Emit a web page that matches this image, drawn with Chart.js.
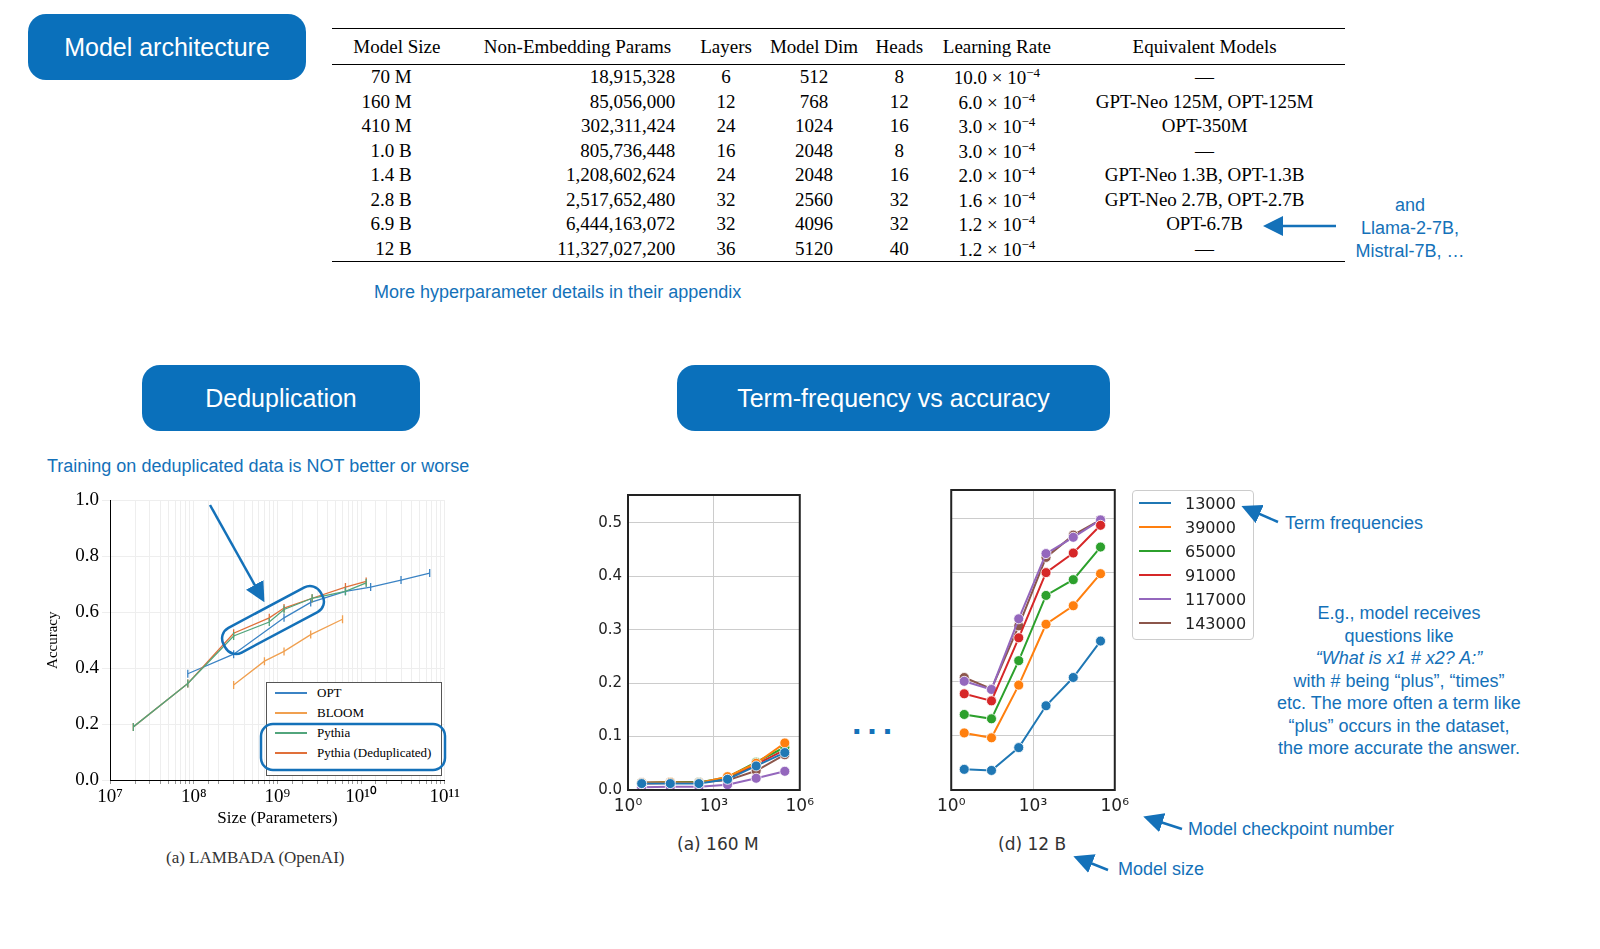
<!DOCTYPE html>
<html><head><meta charset="utf-8">
<script src="https://cdn.jsdelivr.net/npm/chart.js@4"></script>
<style>
body{margin:0;width:1600px;height:949px;background:#fff;position:relative;font-family:"Liberation Sans",Arial,sans-serif;overflow:hidden}
.pill{position:absolute;background:#0a70bb;color:#fff;border-radius:18px;display:flex;align-items:center;justify-content:center;font-size:25px}
.note{position:absolute;color:#1471b9;font-size:18px}
.box{position:absolute}
table{position:absolute;left:332px;top:28px;width:1013px;border-collapse:collapse;font-family:"Liberation Serif",serif;font-size:19px;border-top:1.5px solid #000;border-bottom:1.5px solid #000}
th{font-weight:normal;height:33px;border-bottom:1px solid #000}
td{height:24.5px;padding:0 6px}
.cap{position:absolute;font-size:17px;color:#333;font-family:"DejaVu Sans",sans-serif}
.leg{position:absolute;font-family:"Liberation Serif",serif;font-size:13px;border:1px solid #555;background:#fff;left:266px;top:682px;width:174px;height:92px}
.leg div{height:20px;display:flex;align-items:center;margin-left:8px}
.leg span{display:inline-block;width:32px;height:1.5px;margin-right:10px}
.tleg{position:absolute;left:1132px;top:490px;width:120px;height:148px;border:1px solid #ccc;border-radius:4px;font-family:"DejaVu Sans",sans-serif;font-size:16px;color:#222}
.tleg div{height:24px;display:flex;align-items:center;margin-left:6px}
.tleg span{display:inline-block;width:32px;height:2.5px;margin-right:14px}
</style></head><body>
<div class="pill" style="left:28px;top:14px;width:278px;height:66px">Model architecture</div>
<div class="pill" style="left:142px;top:365px;width:278px;height:66px">Deduplication</div>
<div class="pill" style="left:677px;top:365px;width:433px;height:66px">Term-frequency vs accuracy</div>

<table>
<tr><th>Model Size</th><th style="text-align:center">Non-Embedding Params</th><th>Layers</th><th>Model Dim</th><th>Heads</th><th>Learning Rate</th><th>Equivalent Models</th></tr>
<tbody id="tb"></tbody>
</table>
<div class="note" style="left:374px;top:282px">More hyperparameter details in their appendix</div>
<div class="note" style="left:1340px;top:194px;width:140px;text-align:center;line-height:23px">and<br>Llama-2-7B,<br>Mistral-7B, …</div>
<div class="note" style="left:47px;top:456px">Training on deduplicated data is NOT better or worse</div>
<div class="note" style="left:1285px;top:513px">Term frequencies</div>
<div class="note" style="left:1277px;top:602px;width:244px;text-align:center;line-height:22.5px">E.g., model receives questions like<br><i>“What is x1 # x2? A:”</i><br>with # being “plus”, “times” etc. The more often a term like “plus” occurs in the dataset, the more accurate the answer.</div>
<div class="note" style="left:1188px;top:819px">Model checkpoint number</div>
<div class="note" style="left:1118px;top:859px">Model size</div>
<div class="note" style="left:852px;top:712px;font-size:34px;font-weight:bold;letter-spacing:4px">···</div>

<div class="box" style="left:40px;top:486px;width:422px;height:345px"><canvas id="lam"></canvas></div>
<div class="leg">
<div><span style="background:#3b83c4"></span>OPT</div>
<div><span style="background:#f0a050"></span>BLOOM</div>
<div><span style="background:#52a57c"></span>Pythia</div>
<div><span style="background:#e0703a"></span>Pythia (Deduplicated)</div>
</div>
<div class="cap" style="left:166px;top:848px;font-family:'Liberation Serif',serif">(a) LAMBADA (OpenAI)</div>

<div class="box" style="left:584px;top:480px;width:236px;height:346px"><canvas id="t1"></canvas></div>
<div class="box" style="left:931px;top:480px;width:204px;height:346px"><canvas id="t2"></canvas></div>
<div class="cap" style="left:677px;top:834px">(a) 160 M</div>
<div class="cap" style="left:998px;top:834px">(d) 12 B</div>
<div class="tleg" id="tleg"></div>

<svg style="position:absolute;left:0;top:0" width="1600" height="949">
<defs><marker id="ah" markerWidth="8" markerHeight="8" refX="6" refY="4" orient="auto"><path d="M0,0 L8,4 L0,8 z" fill="#1471b9"/></marker></defs>
<g stroke="#1471b9" stroke-width="2.5" fill="none">
<line x1="210" y1="505" x2="262" y2="598" marker-end="url(#ah)"/>
<rect x="218" y="606" width="110" height="28" rx="12" transform="rotate(-28 273 620)"/>
<rect x="261" y="724" width="184" height="46" rx="12"/>
<line x1="1336" y1="226" x2="1268" y2="226" marker-end="url(#ah)"/>
<line x1="1278" y1="522" x2="1246" y2="508" marker-end="url(#ah)"/>
<line x1="1182" y1="829" x2="1148" y2="818" marker-end="url(#ah)"/>
<line x1="1108" y1="870" x2="1078" y2="858" marker-end="url(#ah)"/>
</g></svg>

<script>
// table
const sizes = ["70 M","160 M","410 M","1.0 B","1.4 B","2.8 B","6.9 B","12 B"];
const params = ["18,915,328","85,056,000","302,311,424","805,736,448","1,208,602,624","2,517,652,480","6,444,163,072","11,327,027,200"];
const layers = [6,12,24,16,24,32,32,36];
const dims = [512,768,1024,2048,2048,2560,4096,5120];
const heads = [8,12,16,8,16,32,32,40];
const lrs = ["10.0","6.0","3.0","3.0","2.0","1.6","1.2","1.2"];
const equiv = ["—","GPT-Neo 125M, OPT-125M","OPT-350M","—","GPT-Neo 1.3B, OPT-1.3B","GPT-Neo 2.7B, OPT-2.7B","OPT-6.7B","—"];
let html = "";
sizes.forEach((s,i) => {
  html += `<tr><td style="text-align:right;padding-right:50px">${s}</td><td style="text-align:right;padding-right:18px">${params[i]}</td><td style="text-align:center">${layers[i]}</td><td style="text-align:center">${dims[i]}</td><td style="text-align:center">${heads[i]}</td><td style="text-align:center">${lrs[i]} × 10<sup style="font-size:13px">−4</sup></td><td style="text-align:center">${equiv[i]}</td></tr>`;
});
document.getElementById("tb").innerHTML = html;

// LAMBADA
const optX = [8.5e7,3e8,1.2e9,2.5e9,6.5e9,1.3e10,3e10,6.6e10];
const optY = [0.38,0.45,0.58,0.635,0.675,0.69,0.715,0.74];
const bloomX = [3e8,7e8,1.2e9,2.5e9,6e9];
const bloomY = [0.34,0.425,0.46,0.52,0.575];
const pyX = [1.9e7,8.5e7,3e8,8e8,1.2e9,2.6e9,6.5e9,1.15e10];
const pyY = [0.19,0.345,0.515,0.565,0.61,0.65,0.675,0.705];
const pyDedupY = [0.19,0.345,0.525,0.58,0.615,0.65,0.69,0.71];

const serif = {family:"Liberation Serif", size:19};
const pts = (xs, ys) => xs.map((x,i) => ({x:x, y:ys[i]}));
const ds = (label, xs, ys, c) => ({label, data:pts(xs,ys), borderColor:c, backgroundColor:c, borderWidth:1.3,
  pointStyle:'line', pointRotation:90, pointRadius:4, pointBorderWidth:1.3});
const sup = {0:"⁰",1:"¹",2:"²",3:"³",4:"⁴",5:"⁵",6:"⁶",7:"⁷",8:"⁸",9:"⁹"};
const pow10 = v => { const e = Math.round(Math.log10(v)); if (Math.abs(Math.log10(v)-e) > 1e-6) return "";
  return "10" + String(e).split("").map(d => sup[d]).join(""); };

new Chart(document.getElementById("lam"), {
  type:'line',
  data:{datasets:[ds("Pythia",pyX,pyY,"#52a57c"), ds("Pythia (Deduplicated)",pyX,pyDedupY,"#e0703a"),
    ds("OPT",optX,optY,"#3b83c4"), ds("BLOOM",bloomX,bloomY,"#f0a050")]},
  options:{animation:false, responsive:true, maintainAspectRatio:false,
    layout:{padding:{top:10,right:10}},
    plugins:{legend:{display:false}, tooltip:{enabled:false}},
    scales:{
      x:{type:'logarithmic', min:1e7, max:1e11, afterFit:s => {s.height = 51;},
        title:{display:true, text:"Size (Parameters)", font:{family:"Liberation Serif", size:17}, color:"#000", padding:2},
        grid:{color:"#eee", drawTicks:true, tickColor:"#999", tickLength:4},
        border:{color:"#000"},
        ticks:{autoSkip:false, maxRotation:0, color:"#000", font:serif, padding:2, callback:v => pow10(v)}},
      y:{min:0, max:1, afterFit:s => {s.width = 70;},
        title:{display:true, text:"Accuracy", font:{family:"Liberation Serif", size:15}, color:"#000"},
        grid:{color:"#eee"}, border:{color:"#000"},
        ticks:{stepSize:0.2, color:"#000", font:serif, callback:v => v.toFixed(1)}}
    }}
});

// term frequency
const ckpts = ["13000","39000","65000","91000","117000","143000"];
const colors = ["#1f77b4","#ff7f0e","#2ca02c","#d62728","#9467bd","#8c564b"];
const freqX = [3,30,300,3000,30000,300000];
const acc160M = [
  [0.012,0.012,0.012,0.020,0.045,0.070],
  [0.013,0.014,0.013,0.025,0.050,0.088],
  [0.013,0.014,0.014,0.024,0.052,0.080],
  [0.012,0.013,0.013,0.022,0.048,0.075],
  [0.005,0.006,0.006,0.010,0.022,0.035],
  [0.014,0.015,0.015,0.018,0.036,0.066]];
const acc12B = [
  [0.038,0.036,0.078,0.155,0.207,0.274],
  [0.105,0.096,0.193,0.305,0.339,0.398],
  [0.139,0.131,0.238,0.358,0.387,0.447],
  [0.177,0.164,0.280,0.400,0.436,0.487],
  [0.200,0.185,0.315,0.435,0.465,0.497],
  [0.207,0.186,0.302,0.428,0.469,0.497]];

const frame = {id:'frame', afterDraw(c){ const a = c.chartArea, g = c.ctx; g.save(); g.strokeStyle = "#222"; g.lineWidth = 2;
  g.strokeRect(a.left, a.top, a.right-a.left, a.bottom-a.top); g.restore(); }};
const dj = {family:"DejaVu Sans", size:17};

function termChart(id, acc, showY) {
  new Chart(document.getElementById(id), {
    type:'line',
    data:{datasets:acc.map((ys,i) => ({label:ckpts[i], data:pts(freqX,ys), borderColor:colors[i], backgroundColor:colors[i],
      borderWidth:2, pointRadius:5, pointBorderColor:"#fff", pointBorderWidth:0.8}))},
    options:{animation:false, responsive:true, maintainAspectRatio:false,
      layout:{padding:{top:10,right:12}},
      plugins:{legend:{display:false}, tooltip:{enabled:false}},
      scales:{
        x:{type:'logarithmic', min:1, max:1e6, afterFit:s => {s.height = 36;},
          grid:{color:"#ccc", drawTicks:false}, border:{display:false},
          afterBuildTicks:s => {s.ticks = [1,1e3,1e6].map(v => ({value:v}));},
          ticks:{autoSkip:false, maxRotation:0, color:"#222", font:dj, padding:6, callback:v => pow10(v)}},
        y:{min:0, max:0.552, afterFit:s => {s.width = showY ? 44 : 12;},
          grid:{color:"#ccc", drawTicks:false}, border:{display:false},
          afterBuildTicks:s => {s.ticks = [0,0.1,0.2,0.3,0.4,0.5].map(v => ({value:v}));},
          ticks:{display:showY, color:"#222", font:{family:"DejaVu Sans", size:15}, padding:6, callback:v => v.toFixed(1)}}
      }},
    plugins:[frame]
  });
}
termChart("t1", acc160M, true);
termChart("t2", acc12B, false);

document.getElementById("tleg").innerHTML = ckpts.map((c,i) =>
  `<div><span style="background:${colors[i]}"></span>${c}</div>`).join("");
</script>
</body></html>
